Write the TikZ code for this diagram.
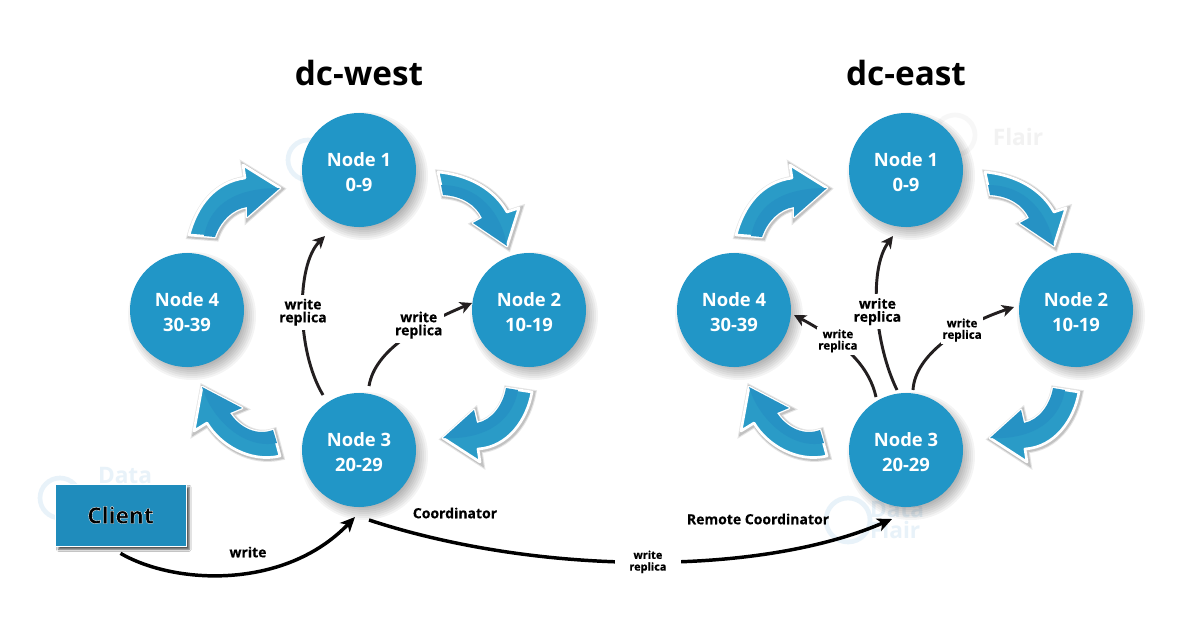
\documentclass[tikz,border=0pt]{standalone}
\usepackage{fontspec}
\setmainfont{Open Sans}
\newfontfamily\heavyfont{Open Sans}[BoldFeatures={FakeBold=0.4}]
\usetikzlibrary{arrows.meta,shadows.blur}

\definecolor{nodeblue}{HTML}{2196C7}
\definecolor{clientblue}{HTML}{1F8CBC}
\definecolor{arrowlight}{HTML}{2A9BC7}
\definecolor{arrowdark}{HTML}{2692C4}
\definecolor{linedark}{HTML}{231F20}
\definecolor{markblue}{HTML}{E8F2F9}

\newcommand\lift{\rule{0pt}{14pt}}

\tikzset{
  ring node/.style={circle, fill=nodeblue, minimum size=85.5pt, inner sep=0pt, outer sep=0pt,
    text=white, align=center, font=\fontsize{13.8}{18.7}\selectfont\bfseries},
  ring shade/.style={fill=black, opacity=0.045},
  ring arrow/.style={fill=arrowlight, draw=white, line width=2pt, line join=round,
    preaction={draw=black, opacity=0.10, line width=5pt, transform canvas={shift={(0.8pt,-0.8pt)}}},
    preaction={draw=black, opacity=0.15, line width=3.4pt, transform canvas={shift={(0.8pt,-0.8pt)}}}},
  ring band/.style={fill=arrowdark},
  title/.style={font=\fontsize{25}{30}\selectfont\bfseries},
  replica/.style={line width=2.2pt, color=linedark, -{Stealth[length=9pt,width=9pt,inset=2.5pt]}},
  main link/.style={line width=2.6pt, color=black, -{Stealth[length=11pt,width=10pt,inset=3pt]}},
  big label/.style={fill=white, inner xsep=1pt, inner ysep=3pt, align=center, text=black, font=\heavyfont\fontsize{10.5}{9.8}\selectfont\bfseries},
  small label/.style={fill=white, inner xsep=1pt, inner ysep=2pt, align=center, text=black, font=\heavyfont\fontsize{8.7}{8.6}\selectfont\bfseries},
  link label/.style={small label, inner xsep=11pt, font=\heavyfont\fontsize{8.2}{8.8}\selectfont\bfseries},
  plain label/.style={text=black, font=\heavyfont\fontsize{10.5}{12}\selectfont\bfseries},
  mark text/.style={text=markblue, align=left, font=\fontsize{17}{16}\selectfont\bfseries},
  mark ring/.style={draw=markblue, line width=3.5pt},
}

\begin{document}
\begin{tikzpicture}[x=0.75pt, y=-0.75pt]
\useasboundingbox (0,0) rectangle (1196,628);
\fill[white] (0,0) rectangle (1196,628);

% faint watermarks
\draw[mark ring] (60,498) circle (20);
\node[mark text] (markclient) at (125,476) {Data};
\draw[mark ring] (308,160) circle (20);
\draw[mark ring] (848,520) circle (22);
\node[mark text] (markeastlow) at (897,520) {Data\\Flair};
\draw[mark ring, draw=black!3] (955,135) circle (20);
\node[mark text, text=black!5] (markeasttop) at (1018,137) {Flair};

% the two rings
\foreach \dc/\dx/\name in {w/0/dc-west, e/547/dc-east} {
  \begin{scope}[shift={(\dx,0)}]
    \node[title] (\dc title) at (359,73) {\name};

    % block arrows between the nodes
    \path[ring arrow] (189,235) -- (215,237) .. controls (220,222) and (232,209) .. (247,207) -- (247,217) -- (280,188) -- (243,165) -- (245,178) .. controls (215,182) and (197,205) .. cycle;
    \fill[ring band] (204,236) -- (215,237) .. controls (220,222) and (232,209) .. (247,207) -- (247,217) -- (280,188) .. controls (250,188) and (212,195) .. cycle;

    \path[ring arrow] (438,172) -- (443,195) .. controls (462,196) and (476,205) .. (482,218) -- (473,223) -- (507,246) -- (519,208) -- (507,212) .. controls (495,190) and (470,175) .. cycle;
    \fill[ring band] (441,185) -- (443,195) .. controls (462,196) and (476,205) .. (482,218) -- (473,223) -- (507,246) .. controls (502,215) and (480,185) .. cycle;

    \path[ring arrow] (532,392) -- (506,388) .. controls (503,405) and (492,420) .. (477,423) -- (474,410) -- (443,438) -- (480,462) -- (478,449) .. controls (508,447) and (527,420) .. cycle;
    \fill[ring band] (518,390) -- (506,388) .. controls (503,405) and (492,420) .. (477,423) -- (474,410) -- (443,438) .. controls (480,440) and (512,425) .. cycle;

    \path[ring arrow] (280,456) -- (273,430) .. controls (257,436) and (240,428) .. (230,413) -- (242,408) -- (202,387) -- (194,431) -- (207,423) .. controls (220,445) and (250,463) .. cycle;
    \fill[ring band] (277,443) -- (273,430) .. controls (257,436) and (240,428) .. (230,413) -- (242,408) -- (202,387) .. controls (212,420) and (245,450) .. cycle;

    % soft shadows under the nodes
    \foreach \cx/\cy in {359/170, 529/310, 359/450, 187/310}
      \foreach \r in {48,50,...,64}
        \fill[ring shade] (\cx+5,\cy+6) circle (\r);

    \node[ring node] (\dc1) at (359,170) {\lift Node 1\\0-9};
    \node[ring node] (\dc2) at (529,310) {\lift Node 2\\10-19};
    \node[ring node] (\dc3) at (359,450) {\lift Node 3\\20-29};
    \node[ring node] (\dc4) at (187,310) {\lift Node 4\\30-39};
  \end{scope}
}

% client
\node[fill=clientblue, draw=white, line width=0.5pt, minimum width=98pt, minimum height=46.5pt, inner sep=0pt,
  font=\fontsize{17}{20}\selectfont\bfseries, text=black,
  blur shadow={shadow xshift=2.5pt, shadow yshift=-2.5pt, shadow blur radius=1.5pt, shadow blur steps=4, shadow opacity=70}]
  (client) at (120.5,515) {\special{pdf:code 2 Tr 0.25 w 1 1 1 RG}Client\special{pdf:code 0 Tr 0 0 0 RG}};

% write replicas, west
\draw[replica] ([shift={(-36,-55)}]w3.center) .. controls (296,350) and (296,265) .. node[big label, pos=.5, yshift=-2pt] (wa) {write\\replica} ([shift={(-34,66)}]w1.center);
\draw[replica] ([shift={(10,-64)}]w3.center) .. controls (375,350) and (420,325) .. node[big label, pos=.63, yshift=3pt] (wb) {write\\replica} ([shift={(-57,-7)}]w2.center);

% write replicas, east
\draw[replica] ([shift={(-9,-60)}]e3.center) .. controls (875,345) and (868,270) .. node[big label, pos=.5, yshift=-2pt] (ea) {write\\replica} ([shift={(-13,66)}]e1.center);
\draw[replica] ([shift={(7,-60)}]e3.center) .. controls (915,355) and (960,325) .. node[small label, pos=.65] (eb) {write\\replica} ([shift={(-62,-3)}]e2.center);
\draw[replica] ([shift={(-30,-53)}]e3.center) .. controls (870,370) and (850,345) .. node[small label, pos=.7, xshift=2pt] (ec) {write\\replica} ([shift={(60,5)}]e4.center);

% client write and link between the data centres
\draw[main link] ([shift={(0,7)}]client.south) .. controls (175,585) and (285,590) .. ([shift={(-4,67)}]w3.center);
\node[plain label] (clientwrite) at (248,552) {write};
\draw[main link] ([shift={(10,70)}]w3.center) .. controls (540,576) and (760,576) .. node[link label, pos=.505] (link) {write\\replica} ([shift={(-14,69)}]e3.center);

\node[plain label] (coord) at (455,513) {Coordinator};
\node[plain label] (remote) at (758,519) {Remote Coordinator};
\end{tikzpicture}
\end{document}
